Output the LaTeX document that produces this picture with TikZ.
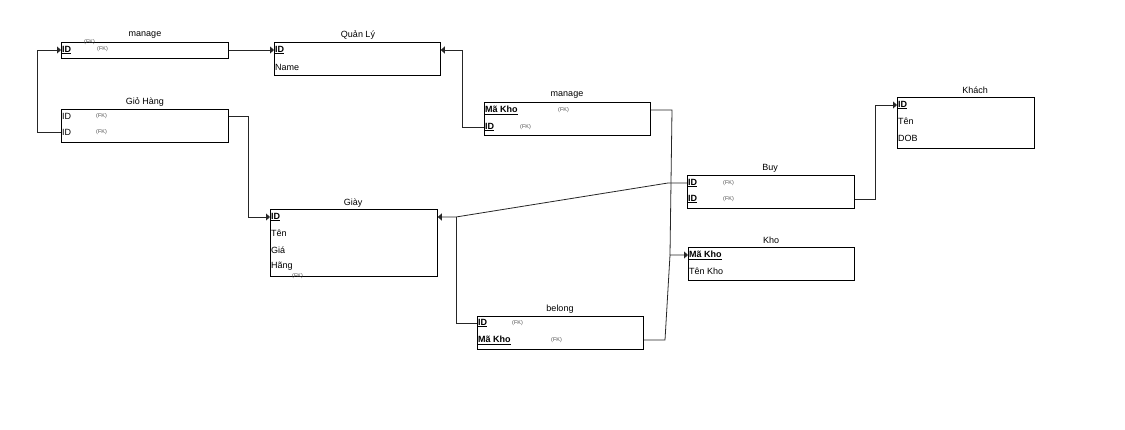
\documentclass[tikz,border=0pt]{standalone}
\usepackage{fontspec}
\setmainfont{Liberation Sans}
\usetikzlibrary{arrows.meta}
\tikzset{
  ent/.style={draw, thick, anchor=north west, inner sep=0pt},
  ttl/.style={font=\fontsize{9}{10}\selectfont},
  fld/.style={anchor=west, inner sep=1pt, font=\fontsize{9}{10}\selectfont},
  key/.style={fld},
  fk/.style={anchor=west, inner sep=0pt, text=black!70, font=\fontsize{5.5}{6}\selectfont},
  rel/.style={draw=black!85, thick},
  fkarrow/.style={rel, -{Triangle[length=4pt,width=7pt]}}
}
\newcommand{\ul}[1]{\underline{#1}}
\begin{document}
\begin{tikzpicture}[x=1pt,y=-1pt]
\useasboundingbox (0,0) rectangle (1125,430);
% entities
\node[ent, minimum width=167pt, minimum height=16pt] (manageA) at (61,42) {};
\node[ttl] at (145,35) {manage};
\node[key] at (61,50) {\ul{\textbf{ID}}};
\node[fk] at (84,42) {(FK)};
\node[fk] at (97,49) {(FK)};

\node[ent, minimum width=166pt, minimum height=33pt] (quanly) at (274,42) {};
\node[ttl] at (358,35) {Quản Lý};
\node[key] at (274,50) {\ul{\textbf{ID}}};
\node[fld] at (274,67) {Name};

\node[ent, minimum width=167pt, minimum height=33pt] (giohang) at (61,109) {};
\node[ttl] at (145,102) {Giỏ Hàng};
\node[fld] at (61,116) {ID};
\node[fk] at (96,116) {(FK)};
\node[fld] at (61,132) {ID};
\node[fk] at (96,132) {(FK)};

\node[ent, minimum width=166pt, minimum height=33pt] (manageB) at (484,102) {};
\node[ttl] at (567,95) {manage};
\node[key] at (484,110) {\ul{\textbf{Mã Kho}}};
\node[fk] at (558,110) {(FK)};
\node[key] at (484,127) {\ul{\textbf{ID}}};
\node[fk] at (520,127) {(FK)};

\node[ent, minimum width=137pt, minimum height=51pt] (khach) at (897,97) {};
\node[ttl] at (975,90) {Khách};
\node[key] at (897,105) {\ul{\textbf{ID}}};
\node[fld] at (897,121) {Tên};
\node[fld] at (897,138) {DOB};

\node[ent, minimum width=167pt, minimum height=33pt] (buy) at (687,175) {};
\node[ttl] at (770,168) {Buy};
\node[key] at (687,183) {\ul{\textbf{ID}}};
\node[fk] at (723,183) {(FK)};
\node[key] at (687,199) {\ul{\textbf{ID}}};
\node[fk] at (723,199) {(FK)};

\node[ent, minimum width=167pt, minimum height=67pt] (giay) at (270,209) {};
\node[ttl] at (353,203) {Giày};
\node[key] at (270,217) {\ul{\textbf{ID}}};
\node[fld] at (270,233) {Tên};
\node[fld] at (270,250) {Giá};
\node[fld] at (270,266) {Hãng};
\node[fk] at (292,276) {(FK)};

\node[ent, minimum width=166pt, minimum height=33pt] (kho) at (688,247) {};
\node[ttl] at (771,240) {Kho};
\node[key] at (688,255) {\ul{\textbf{Mã Kho}}};
\node[fld] at (688,271) {Tên Kho};

\node[ent, minimum width=166pt, minimum height=33pt] (belong) at (477,316) {};
\node[ttl] at (560,309) {belong};
\node[key] at (477,323) {\ul{\textbf{ID}}};
\node[fk] at (512,323) {(FK)};
\node[key] at (477,340) {\ul{\textbf{Mã Kho}}};
\node[fk] at (551,340) {(FK)};

% connectors
\coordinate (joinGiay) at (456,217);
\draw[fkarrow] (giohang.west |- 0,132) -- (37,132) -- (37,50) -- (manageA.west |- 0,50);
\draw[fkarrow] (manageA.east |- 0,50) -- (quanly.west |- 0,50);
\draw[fkarrow] (manageB.west |- 0,127) -- (462,127) -- (462,50) -- (quanly.east |- 0,50);
\draw[fkarrow] (giohang.east |- 0,116) -- (248,116) -- (248,217) -- (giay.west |- 0,217);
\draw[fkarrow] (buy.west |- 0,183) -- (668,183) -- (joinGiay) -- (giay.east |- 0,217);
\draw[rel] (belong.west |- 0,323) -- (456,323) -- (joinGiay);
\draw[fkarrow] (belong.east |- 0,340) -- (665,340) -- (670,255) -- (kho.west |- 0,255);
\draw[rel] (manageB.east |- 0,110) -- (672,110) -- (670,255);
\draw[fkarrow] (buy.east |- 0,199) -- (875,199) -- (875,105) -- (khach.west |- 0,105);
\end{tikzpicture}
\end{document}
